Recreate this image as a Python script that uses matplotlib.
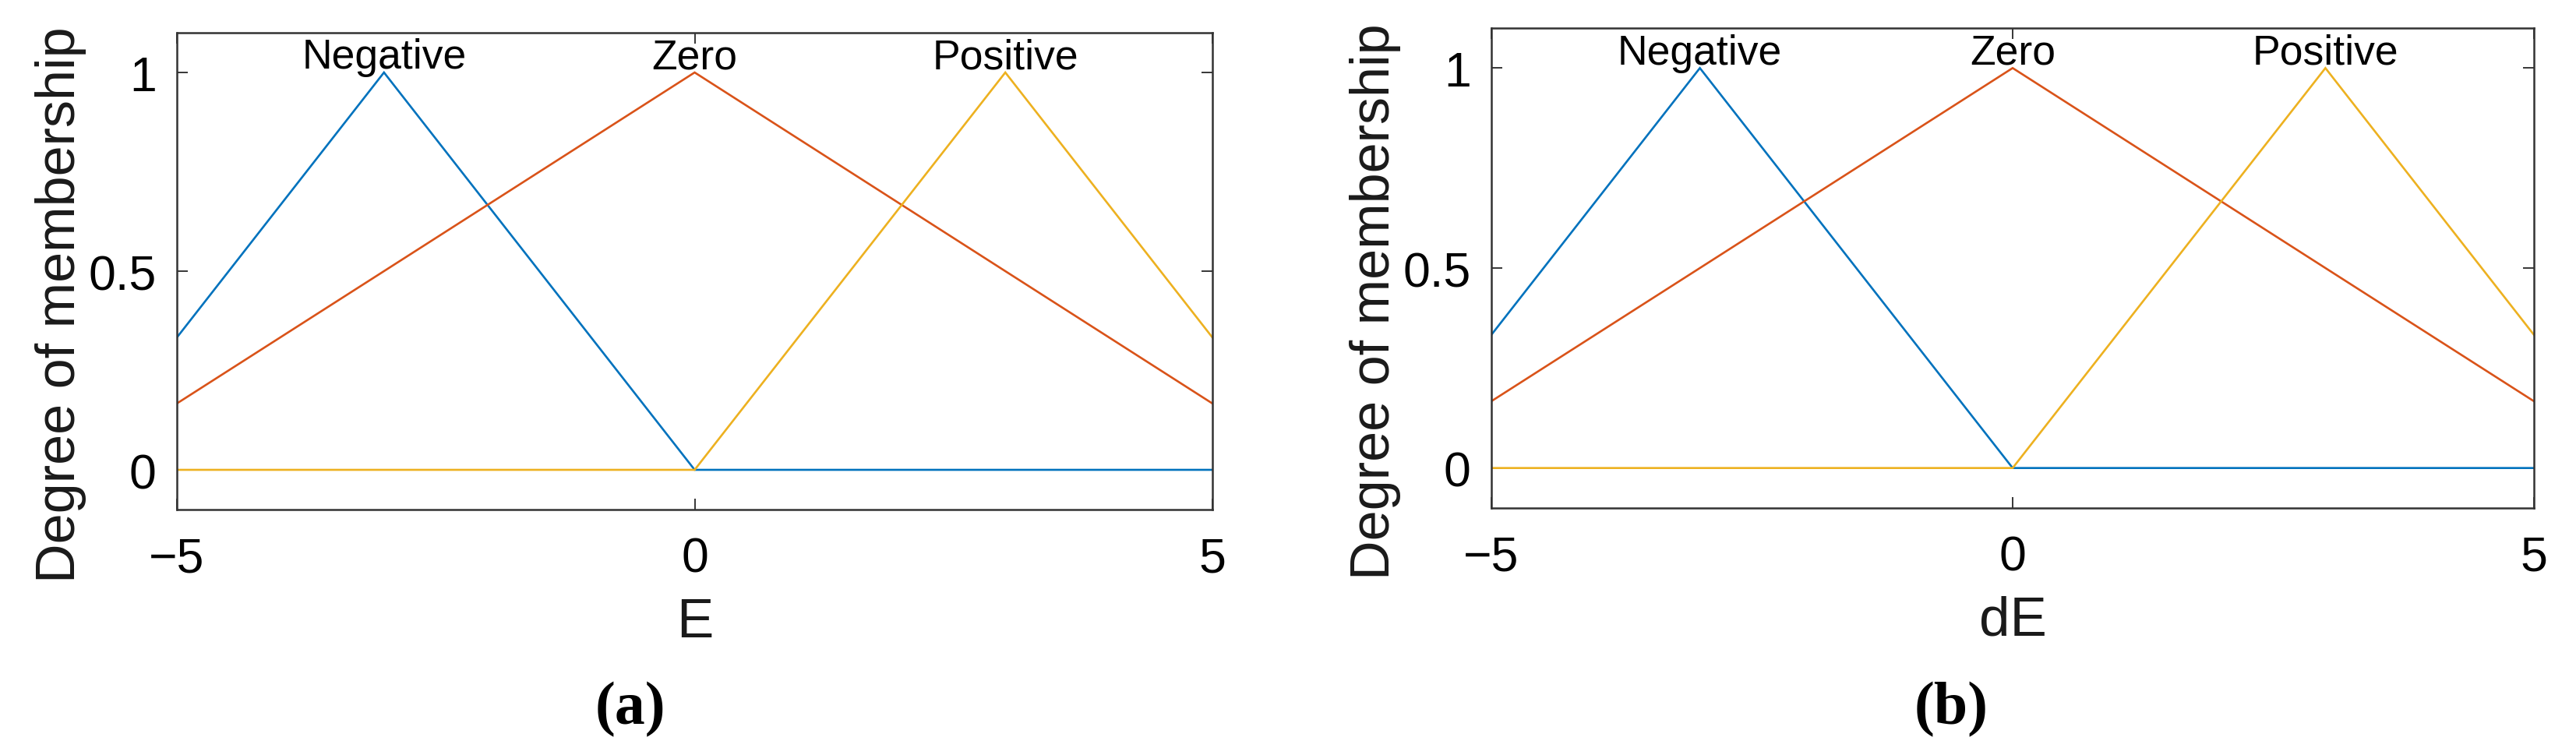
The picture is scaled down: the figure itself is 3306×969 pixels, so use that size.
import matplotlib
matplotlib.use("Agg")
import matplotlib.pyplot as plt

plt.rcParams['font.family'] = ['Liberation Sans', 'DejaVu Sans']

# ---- data ----
x_points = [-5, -3, 0, 3, 5]
negative = [0.333, 1.0, 0.0, 0.0, 0.0]
zero = [0.167, 0.5, 1.0, 0.5, 0.167]
positive = [0.0, 0.0, 0.0, 1.0, 0.333]
mf_names = ["Negative", "Zero", "Positive"]
mf_peaks = [-3, 0, 3]
x_labels = ["E", "dE"]
panel_labels = ["(a)", "(b)"]
x_ticks = [-5, 0, 5]
y_ticks = [0, 0.5, 1]
y_tick_labels = ["0", "0.5", "1"]

colors = ["#0072BD", "#D95319", "#EDB120"]
series = [negative, zero, positive]

W, H = 3306, 970
fig = plt.figure(figsize=(W / 100, H / 100), dpi=100)

axes_px = [(227, 43, 1556, 655), (1914, 37, 3252, 653)]
panel_x = [809, 2504]

for i, (l, t, r, b) in enumerate(axes_px):
    ax = fig.add_axes([l / W, 1 - b / H, (r - l) / W, (b - t) / H])
    for s, c in zip(series, colors):
        ax.plot(x_points, s, color=c, lw=1.9, solid_joinstyle='miter')
    ax.set_xlim(-5, 5)
    ax.set_ylim(-0.1, 1.1)
    ax.set_xticks(x_ticks)
    ax.set_yticks(y_ticks)
    ax.set_yticklabels(y_tick_labels)
    ax.tick_params(direction='in', length=10, width=1.3, colors='#262626',
                   labelcolor='black', labelsize=45, top=True, right=True)
    ax.tick_params(axis='x', pad=24)
    ax.tick_params(axis='y', pad=19)
    for sp in ax.spines.values():
        sp.set_linewidth(1.8)
        sp.set_color('#333333')
    for name, px in zip(mf_names, mf_peaks):
        ax.annotate(name, xy=(px, 1.0), xytext=(0, 4), textcoords='offset points',
                    ha='center', va='baseline', fontsize=38.5, color='black')
    ax.set_xlabel(x_labels[i], fontsize=51, labelpad=14, color='#1a1a1a')
    ax.set_ylabel("Degree of membership", fontsize=50.5, color='#1a1a1a')
    ax.yaxis.set_label_coords(-0.087, 0.431)
    fig.text(panel_x[i] / W, 1 - 911 / H, panel_labels[i], ha='center', va='center',
             fontsize=56, fontweight='bold', family=['Liberation Serif', 'DejaVu Serif'])

fig.savefig("out.png", dpi=100, facecolor='white')
